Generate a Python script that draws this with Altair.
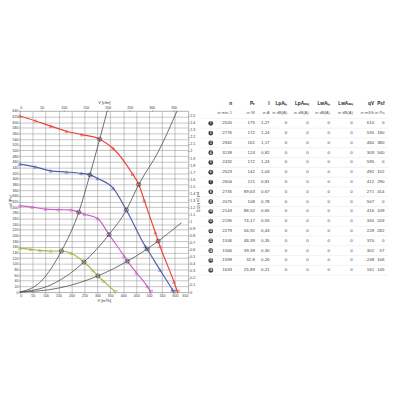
import altair as alt
import pandas as pd

# ---------------- data ----------------
CURVE_NAMES = ["red", "blue", "pink", "olive"]
CURVE_COLORS = ["#e8453c", "#4f5fae", "#cc5fc8", "#a9b545"]
RED_V = [0, 60, 120, 181, 240, 309, 361, 436, 460, 481, 524, 535, 542, 596, 610]
RED_P = [622, 605, 586, 568, 556, 540, 507, 417, 380, 324, 210, 180, 162, 36, 0]
BLUE_V = [0, 60, 120, 181, 238, 271, 301, 361, 412, 485, 492, 542, 590, 595]
BLUE_P = [452, 442, 428, 424, 419, 414, 401, 367, 290, 162, 152, 78, 8, 0]
PINK_V = [0, 48, 100, 150, 199, 228, 250, 301, 345, 403, 416, 451, 493, 507]
PINK_P = [305, 300, 293, 291, 290, 282, 275, 260, 203, 127, 109, 68, 20, 0]
OLIVE_V = [0, 42, 78, 120, 161, 199, 248, 283, 302, 325, 370]
OLIVE_P = [155, 151, 147, 145, 145, 137, 106, 76, 57, 38, 0]

# system resistance curves
SYS_A_V = [0, 80, 161, 228, 271, 309, 338]
SYS_A_P = [0, 36, 145, 282, 414, 540, 640]
SYS_B_V = [0, 124, 248, 345, 412, 460, 535, 608]
SYS_B_P = [0, 27, 106, 203, 290, 380, 495, 640]
SYS_C_V = [0, 150, 302, 416, 492, 535, 625]
SYS_C_P = [0, 14, 57, 109, 152, 180, 245]

# table
NUM = list(range(1, 17))
N_RPM = ["2520", "2776", "2942", "3139", "2432", "2523", "2604", "2735",
         "2075", "2143", "2195", "2279", "1536", "1566", "1599", "1633"]
PE_W = ["175", "172", "161", "124", "172", "142", "121", "89,63",
        "108", "88,52", "74,17", "56,92", "48,39", "39,39", "32,8", "25,89"]
I_A = ["1,27", "1,24", "1,17", "0,82", "1,24", "1,04", "0,81", "0,67",
       "0,78", "0,65", "0,55", "0,43", "0,35", "0,30", "0,26", "0,21"]
LPA_IN = ["0"] * 16
LPA_OUT = ["0"] * 16
LWA_IN = ["0"] * 16
LWA_OUT = ["0"] * 16
QV = [610, 535, 460, 309, 595, 492, 412, 271, 507, 416, 345, 228, 370, 302, 248, 161]
PSF = [0, 180, 380, 540, 0, 152, 290, 414, 0, 109, 203, 282, 0, 57, 106, 145]
HEAD = ["n", "Pₑ", "I", "LpAᵢₙ", "LpAₒᵤₜ", "LwAᵢₙ", "LwAₒᵤₜ", "qV", "Psf"]
UNITS = ["in min-1", "in W", "in A", "in dB(A)", "in dB(A)", "in dB(A)", "in dB(A)", "in m3/h", "in Pa"]

# ---------------- layout ----------------
PAD_L = 12
X0 = 8 + PAD_L          # page x of view origin
W, H = 191.7 - X0, 185
COL_X = [236.7, 260, 275, 293, 315, 336.7, 360, 381.7, 392.3]
ICON_X = 215
FONT = "Liberation Sans"

xs = alt.Scale(domain=[0, 650], nice=False, zero=False)
ys = alt.Scale(domain=[0, 640], nice=False, zero=False)

# curves
rows = []
for name, vv, pp in zip(CURVE_NAMES, [RED_V, BLUE_V, PINK_V, OLIVE_V],
                        [RED_P, BLUE_P, PINK_P, OLIVE_P]):
    for i, (v, p) in enumerate(zip(vv, pp)):
        rows.append({"c": name, "V": v, "P": p, "i": i})
curve_df = pd.DataFrame(rows)
opset = set(zip(QV, PSF))
curve_df["op"] = [(v, p) in opset for v, p in zip(curve_df.V, curve_df.P)]

srows = []
for name, vv, pp in zip(["A", "B", "C"], [SYS_A_V, SYS_B_V, SYS_C_V], [SYS_A_P, SYS_B_P, SYS_C_P]):
    for v, p in zip(vv, pp):
        srows.append({"s": name, "V": v, "P": p})
sys_df = pd.DataFrame(srows)

op_df = pd.DataFrame({"V": QV, "P": PSF, "k": NUM})
op_df["zero"] = op_df.P == 0
op_df["c"] = [CURVE_NAMES[(k - 1) // 4] for k in NUM]

color = alt.Color("c:N", scale=alt.Scale(domain=CURVE_NAMES, range=CURVE_COLORS), legend=None)

axis_common = dict(labelFontSize=3.6, titleFontSize=4, tickSize=1.2, labelPadding=0.6, titlePadding=1,
                   domain=False, labelColor="#333", titleColor="#333", labelFont=FONT,
                   titleFont=FONT, titleFontWeight="normal", tickColor="#666", tickWidth=0.5)

# main axes layer (bottom / left) with grid
axis_df = pd.DataFrame({"V": [0, 650], "P": [0, 640]})
main_axes = alt.Chart(axis_df).mark_point(opacity=0).encode(
    x=alt.X("V:Q", scale=xs, title="V [m³/h]",
            axis=alt.Axis(values=list(range(0, 651, 50)), grid=True,
                          gridColor="#8c8c8c", gridWidth=0.5, **axis_common)),
    y=alt.Y("P:Q", scale=ys, title="psf [Pa]",
            axis=alt.Axis(values=list(range(0, 641, 20)), grid=True, titleX=-9.5,
                          titleBaseline="middle", titleAngle=270,
                          gridColor="#8c8c8c", gridWidth=0.5, **axis_common)),
)

# top / right axes (cfm, inH2O)
alt_df = pd.DataFrame({"cfm": [0, 650 / 1.699], "inh": [0, 640 / 249.089]})
alt_axes = alt.Chart(alt_df).mark_point(opacity=0).encode(
    x=alt.X("cfm:Q", scale=alt.Scale(domain=[0, 650 / 1.699], nice=False, zero=False), title="V [cfm]",
            axis=alt.Axis(orient="top", values=list(range(0, 351, 50)), grid=False, **axis_common)),
    y=alt.Y("inh:Q", scale=alt.Scale(domain=[0, 640 / 249.089], nice=False, zero=False),
            title="psf [in H2O]",
            axis=alt.Axis(orient="right", values=[round(i * 0.1, 1) for i in range(26)], format=".1~f",
                          grid=False, **axis_common)),
)

sys_lines = alt.Chart(sys_df).mark_line(color="#4a4a4a", strokeWidth=0.8, interpolate="monotone").encode(
    x=alt.X("V:Q", scale=xs, axis=None),
    y=alt.Y("P:Q", scale=ys, axis=None),
    detail="s:N",
)

curve_lines = alt.Chart(curve_df).mark_line(strokeWidth=1.2, interpolate="monotone").encode(
    x=alt.X("V:Q", scale=xs, axis=None),
    y=alt.Y("P:Q", scale=ys, axis=None),
    color=color, detail="c:N", order="i:Q",
)

curve_pts = alt.Chart(curve_df).transform_filter("!datum.op && datum.P > 0").mark_point(
    shape="triangle-up", size=10, filled=False, strokeWidth=0.8).encode(
    x=alt.X("V:Q", scale=xs, axis=None),
    y=alt.Y("P:Q", scale=ys, axis=None),
    color=color,
)

op_dark = alt.Chart(op_df).transform_filter("!datum.zero").mark_point(
    shape="circle", size=18, filled=False, color="#333", strokeWidth=0.8).encode(
    x=alt.X("V:Q", scale=xs, axis=None),
    y=alt.Y("P:Q", scale=ys, axis=None),
)
op_dark_x = alt.Chart(op_df).transform_filter("!datum.zero").mark_point(
    shape="cross", size=7, filled=False, color="#333", strokeWidth=0.5, angle=45).encode(
    x=alt.X("V:Q", scale=xs, axis=None),
    y=alt.Y("P:Q", scale=ys, axis=None),
)
op_zero = alt.Chart(op_df).transform_filter("datum.zero").mark_point(
    shape="triangle-down", size=16, filled=False, strokeWidth=0.9).encode(
    x=alt.X("V:Q", scale=xs, axis=None),
    y=alt.Y("P:Q", scale=ys, axis=None),
    color=color,
)

# ---------------- table ----------------
trows = []
for j, (h, u) in enumerate(zip(HEAD, UNITS)):
    trows.append({"r": 0, "cx": COL_X[j] - X0, "t": h, "kind": "head"})
    trows.append({"r": 1, "cx": COL_X[j] - X0, "t": u, "kind": "unit"})
cols = [N_RPM, PE_W, I_A, LPA_IN, LPA_OUT, LWA_IN, LWA_OUT, [str(v) for v in QV], [str(v) for v in PSF]]
for i in range(16):
    for j, col in enumerate(cols):
        trows.append({"r": i + 2, "cx": COL_X[j] - X0, "t": col[i], "kind": "data"})
tab_df = pd.DataFrame(trows)

ty = alt.Scale(domain=[0, 17], range=[-7.3, 162.7], nice=False, zero=False)
tx = alt.Scale(domain=[0, 100], range=[0, 100], nice=False, zero=False)


def tab_layer(kind, size, col, weight="normal"):
    return alt.Chart(tab_df).transform_filter(f"datum.kind == '{kind}'").mark_text(
        align="right", baseline="middle", font=FONT, fontSize=size, color=col, fontWeight=weight).encode(
        x=alt.X("cx:Q", scale=tx, axis=None),
        y=alt.Y("r:Q", scale=ty, axis=None),
        text="t:N",
    )


tab_head = tab_layer("head", 4.8, "#222", "bold")
tab_unit = tab_layer("unit", 4.2, "#555")
tab_data = tab_layer("data", 4.5, "#444")

sep_df = pd.DataFrame({"r": [i + 1.5 for i in range(17)], "a": [205 - X0] * 17, "b": [396 - X0] * 17})
tab_sep = alt.Chart(sep_df).mark_rule(color="#e6e6e6", strokeWidth=0.5).encode(
    x=alt.X("a:Q", scale=tx, axis=None), x2="b:Q",
    y=alt.Y("r:Q", scale=ty, axis=None),
)

icon_df = pd.DataFrame({"r": [k + 1 for k in NUM], "cx": [ICON_X - X0] * 16, "t": [str(k) for k in NUM]})
icons = alt.Chart(icon_df).mark_point(shape="circle", filled=True, size=24, color="#3a3a3a", opacity=1).encode(
    x=alt.X("cx:Q", scale=tx, axis=None),
    y=alt.Y("r:Q", scale=ty, axis=None),
)
icon_txt = alt.Chart(icon_df).mark_text(fontSize=2.8, color="white", fontWeight="bold", font=FONT,
                                        align="center", baseline="middle").encode(
    x=alt.X("cx:Q", scale=tx, axis=None),
    y=alt.Y("r:Q", scale=ty, axis=None),
    text="t:N",
)

chart = alt.layer(
    main_axes, alt_axes, sys_lines, curve_lines, curve_pts, op_dark, op_dark_x, op_zero,
    tab_sep, tab_head, tab_unit, tab_data, icons, icon_txt,
).resolve_scale(x="independent", y="independent", color="independent").properties(
    width=W, height=H,
    autosize=alt.AutoSizeParams(type="none"),
    padding={"left": PAD_L, "top": 101, "right": 400 - 8 - PAD_L - W, "bottom": 97},
).configure_view(stroke="#333", strokeWidth=0.8).configure(background="white")

chart.save("out.html", embed_options={"renderer": "svg", "actions": False})
